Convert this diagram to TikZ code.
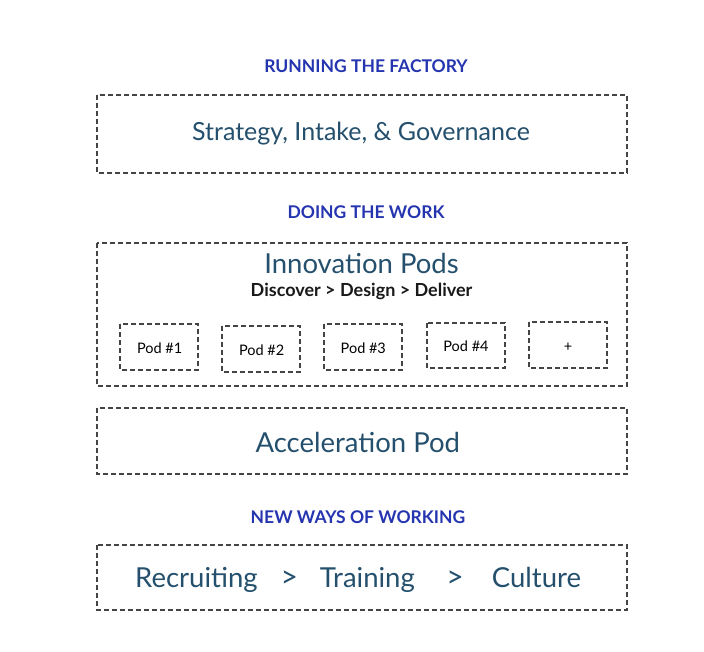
\documentclass[tikz,border=0pt]{standalone}
\usepackage{fontspec}
\setmainfont{Lato}
\definecolor{headblue}{HTML}{2535B0}
\definecolor{teal}{HTML}{24506D}
\definecolor{dashgray}{HTML}{444444}
\begin{document}
\begin{tikzpicture}[x=1pt,y=-1pt,
  box/.style={draw=dashgray,line width=1.1pt,dash pattern=on 5pt off 3pt},
  head/.style={anchor=base,text=headblue,font=\fontsize{17.5}{20}\selectfont\bfseries},
  big/.style={anchor=base,text=teal,font=\fontsize{27.5}{32}\selectfont},
  mid/.style={anchor=base,text=teal,font=\fontsize{25}{30}\selectfont},
  podlbl/.style={anchor=base,text=black,font=\fontsize{14.5}{17}\selectfont}]
\useasboundingbox[fill=white] (0,0) rectangle (704,652);
% headings
\node[head] (h1) at (366,72.7) {RUNNING THE FACTORY};
\node[head] (h2) at (366,218.3) {DOING THE WORK};
\node[head] (h3) at (358,523.3) {NEW WAYS OF WORKING};
% box 1
\draw[box] (97,95) rectangle (627,173);
\node[mid] (sig) at (361,140.7) {Strategy, Intake, \& Governance};
% box 2
\draw[box] (97,243) rectangle (627,386);
\node[big] (ip) at (361.5,274) {Innovation Pods};
\node[anchor=base,text=black!90,font=\fontsize{18}{21}\selectfont\bfseries] (ddd) at (361.5,296.7) {Discover > Design > Deliver};
\draw[box] (120,324) rectangle (198,370);
\node[podlbl] (p1) at (159.6,353.3) {Pod \#1};
\draw[box] (222,326) rectangle (300,372);
\node[podlbl] (p2) at (261.7,355) {Pod \#2};
\draw[box] (324,324) rectangle (402,370);
\node[podlbl] (p3) at (363.3,353.3) {Pod \#3};
\draw[box] (427,323) rectangle (505,368);
\node[podlbl] (p4) at (466,351.7) {Pod \#4};
\draw[box] (529,322) rectangle (607,368);
\node[podlbl] (p5) at (568,351) {+};
% box 3
\draw[box] (97,408) rectangle (627,474);
\node[big] (acc) at (357.8,452.3) {Acceleration Pod};
% box 4
\draw[box] (97,545) rectangle (627,610);
\node[big] (rec) at (196.4,587.7) {Recruiting};
\node[big,font=\fontsize{30}{34}\selectfont] (g1) at (289.3,587.7) {>};
\node[big] (tra) at (367.4,587.7) {Training};
\node[big,font=\fontsize{30}{34}\selectfont] (g2) at (455,587.7) {>};
\node[big] (cul) at (536.5,587.7) {Culture};
\end{tikzpicture}
\end{document}
